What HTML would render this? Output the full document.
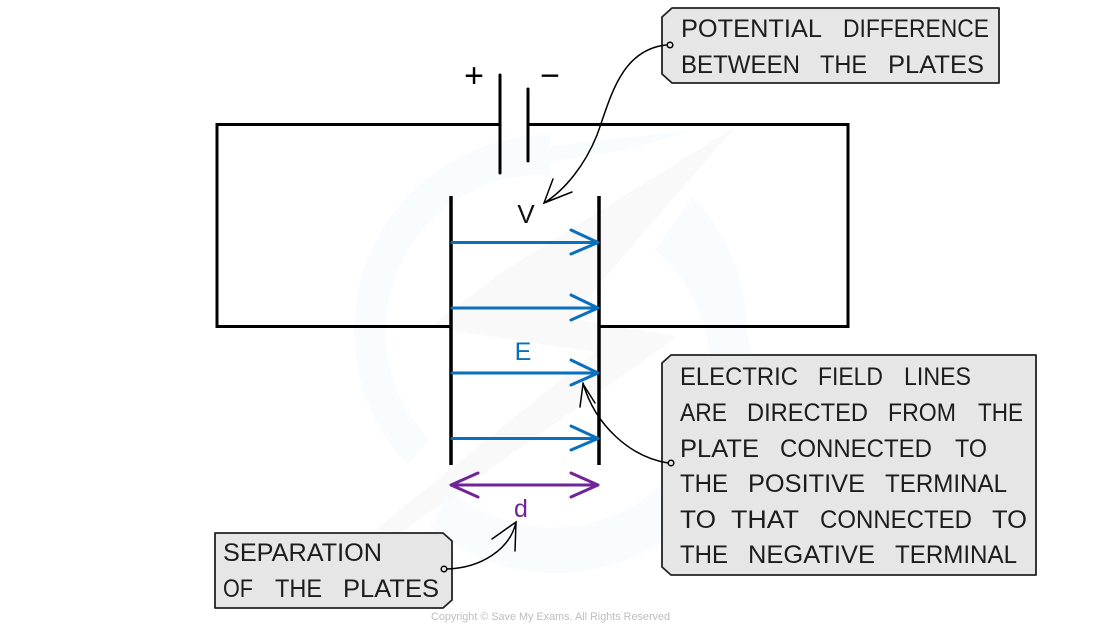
<!DOCTYPE html>
<html><head><meta charset="utf-8"><style>
html,body{margin:0;padding:0;background:#fff}
svg{display:block}
.t text{font-family:"Liberation Sans",sans-serif;font-size:25px;fill:#1c1c1c}
</style></head><body>
<svg width="1100" height="628" viewBox="0 0 1100 628" xmlns="http://www.w3.org/2000/svg">
<!-- watermark -->
<path d="M550 135 A196 196 0 0 0 407 465 L430 440 A156 156 0 0 1 550 175Z" fill="#f8fcfe"/>
<path d="M430 527 A196 196 0 0 0 747 332 A196 196 0 0 0 693 197 L625 290 L655 250 A156 156 0 0 1 450 490Z" fill="#f8fcfe"/>
<path d="M735 127 L505 270 L430 327 L595 352 L375 530 L400 533 L677 337 L570 318Z" fill="#f9f9f9"/>
<path d="M695 130 L500 152 L430 180 L625 150Z" fill="#f8fcfe"/>
<!-- circuit -->
<g fill="none" stroke="#000" stroke-width="3">
<path d="M500 124.500H217V326.500H451M599 326.500H848V124.500H528"/>
<path d="M500 75V173M528 89V161" stroke-linecap="round"/>
<path d="M451 196V465M599 196V465" stroke-width="3.500"/>
</g>
<!-- field lines -->
<g fill="none" stroke="#0a6fbd" stroke-width="3" stroke-linecap="round" stroke-linejoin="round">
<path d="M452 242.500H597M571 230L598 242.500L571 254"/>
<path d="M452 308H597M571 295L598 308L571 320"/>
<path d="M452 373H597M571 360L598 373L571 385"/>
<path d="M452 438.500H597M571 426L598 438.500L571 450"/>
</g>
<g fill="none" stroke="#6f2597" stroke-width="3" stroke-linecap="round" stroke-linejoin="round">
<path d="M452 485H597M478 473L451 485L478 497M571 473L598 485L571 497"/>
</g>
<!-- callouts -->
<g fill="#e6e6e6" stroke="#222" stroke-width="1.800" stroke-linejoin="round">
<path d="M672 8H999V83H672L662 74V17Z"/>
<path d="M671 355H1036V575H671L662 567V363Z"/>
<path d="M215 533H443L452 541V600L443 608H215Z"/>
</g>
<!-- connectors -->
<g fill="none" stroke="#000" stroke-width="1.500" stroke-linecap="round">
<path d="M666 45C620 50 610 100 597 135C585 165 565 190 544 203M553 179L544 203L572 192"/>
<path d="M668 463C630 457 595 425 583 383M580 407L583 384L595 403"/>
<path d="M447 569C480 568 510 550 516 522M492 539L516 522L515 551"/>
<circle cx="670" cy="45" r="2.800" fill="#e6e6e6"/>
<circle cx="671" cy="463" r="2.800" fill="#e6e6e6"/>
<circle cx="444" cy="569" r="2.800" fill="#e6e6e6"/>
</g>
<!-- labels -->
<g class="t">
<text x="681" y="37" textLength="141" lengthAdjust="spacingAndGlyphs">POTENTIAL</text>
<text x="843" y="37" textLength="146" lengthAdjust="spacingAndGlyphs">DIFFERENCE</text>
<text x="681" y="73" textLength="119" lengthAdjust="spacingAndGlyphs">BETWEEN</text>
<text x="820" y="73" textLength="47" lengthAdjust="spacingAndGlyphs">THE</text>
<text x="888" y="73" textLength="96" lengthAdjust="spacingAndGlyphs">PLATES</text>

<text x="680" y="385" textLength="118" lengthAdjust="spacingAndGlyphs">ELECTRIC</text>
<text x="818" y="385" textLength="65" lengthAdjust="spacingAndGlyphs">FIELD</text>
<text x="904" y="385" textLength="67" lengthAdjust="spacingAndGlyphs">LINES</text>
<text x="680" y="421" textLength="47" lengthAdjust="spacingAndGlyphs">ARE</text>
<text x="747" y="421" textLength="121" lengthAdjust="spacingAndGlyphs">DIRECTED</text>
<text x="888" y="421" textLength="68" lengthAdjust="spacingAndGlyphs">FROM</text>
<text x="978" y="421" textLength="45" lengthAdjust="spacingAndGlyphs">THE</text>
<text x="680" y="457" textLength="79" lengthAdjust="spacingAndGlyphs">PLATE</text>
<text x="780" y="457" textLength="152" lengthAdjust="spacingAndGlyphs">CONNECTED</text>
<text x="955" y="457" textLength="32" lengthAdjust="spacingAndGlyphs">TO</text>
<text x="680" y="492" textLength="48" lengthAdjust="spacingAndGlyphs">THE</text>
<text x="748" y="492" textLength="117" lengthAdjust="spacingAndGlyphs">POSITIVE</text>
<text x="885" y="492" textLength="122" lengthAdjust="spacingAndGlyphs">TERMINAL</text>
<text x="680" y="528" textLength="36" lengthAdjust="spacingAndGlyphs">TO</text>
<text x="731" y="528" textLength="68" lengthAdjust="spacingAndGlyphs">THAT</text>
<text x="820" y="528" textLength="152" lengthAdjust="spacingAndGlyphs">CONNECTED</text>
<text x="992" y="528" textLength="35" lengthAdjust="spacingAndGlyphs">TO</text>
<text x="680" y="563" textLength="48" lengthAdjust="spacingAndGlyphs">THE</text>
<text x="748" y="563" textLength="127" lengthAdjust="spacingAndGlyphs">NEGATIVE</text>
<text x="895" y="563" textLength="122" lengthAdjust="spacingAndGlyphs">TERMINAL</text>

<text x="223" y="561" textLength="159" lengthAdjust="spacingAndGlyphs">SEPARATION</text>
<text x="223" y="597" textLength="30" lengthAdjust="spacingAndGlyphs">OF</text>
<text x="275" y="597" textLength="47" lengthAdjust="spacingAndGlyphs">THE</text>
<text x="343" y="597" textLength="96" lengthAdjust="spacingAndGlyphs">PLATES</text>
</g>
<g font-family="'Liberation Sans',sans-serif">
<text x="526" y="223" font-size="26" text-anchor="middle" fill="#111">V</text>
<text x="474" y="87" font-size="34" text-anchor="middle" fill="#000">+</text>
<text x="550" y="87" font-size="34" text-anchor="middle" fill="#000">−</text>
<text x="523" y="360" font-size="25" text-anchor="middle" fill="#0a6fbd">E</text>
<text x="521" y="517" font-size="25" text-anchor="middle" fill="#6f2597">d</text>
<text x="431" y="620" font-size="11" textLength="239" lengthAdjust="spacingAndGlyphs" fill="#bdbdbd">Copyright © Save My Exams. All Rights Reserved</text>
</g>
</svg>
</body></html>
